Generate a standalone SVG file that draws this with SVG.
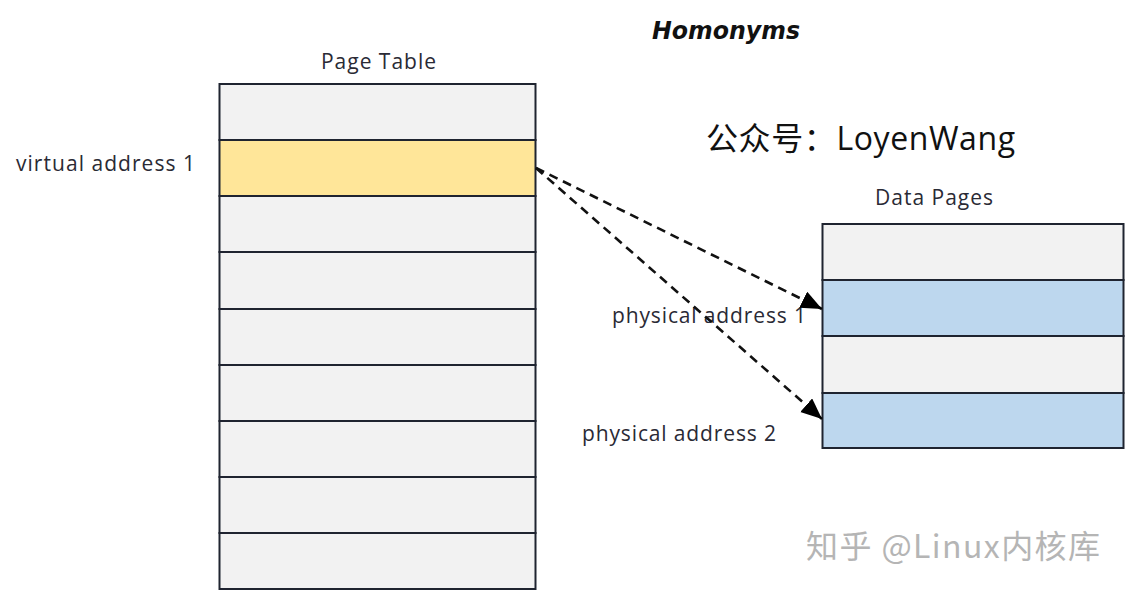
<svg xmlns="http://www.w3.org/2000/svg" width="1128" height="592" viewBox="0 0 1128 592">
<style>
.t{font-family:"Open Sans","Noto Sans",sans-serif;font-size:21px;fill:#2a2a35}
.c{fill:#f2f2f2;stroke:#1f2430;stroke-width:2}
.y{fill:#ffe699}
.b{fill:#bdd7ee}
.l{fill:none;stroke:#111;stroke-width:2.6;stroke-dasharray:9 6}
</style>
<defs><marker id="a" markerUnits="userSpaceOnUse" markerWidth="24" markerHeight="20" refX="21" refY="9" orient="auto"><path d="M0 0L21 9L0 18Z" fill="#000"/></marker></defs>
<rect width="1128" height="592" fill="#fff"/>
<text x="652" y="39" font-family="'DejaVu Sans',sans-serif" font-size="24.500" font-weight="700" font-style="italic" fill="#111" textLength="148" lengthAdjust="spacingAndGlyphs">Homonyms</text>
<text x="706" y="150" font-family="'Open Sans','Noto Sans CJK SC',sans-serif" font-size="32" fill="#111" textLength="309">公众号：LoyenWang</text>
<g id="page-table">
<text class="t" x="321" y="69" textLength="115">Page Table</text>
<rect class="c" x="219.500" y="84" width="316" height="56"/>
<rect class="c y" x="219.500" y="140" width="316" height="56"/>
<rect class="c" x="219.500" y="196" width="316" height="56"/>
<rect class="c" x="219.500" y="252" width="316" height="57"/>
<rect class="c" x="219.500" y="309" width="316" height="56"/>
<rect class="c" x="219.500" y="365" width="316" height="56"/>
<rect class="c" x="219.500" y="421" width="316" height="56"/>
<rect class="c" x="219.500" y="477" width="316" height="56"/>
<rect class="c" x="219.500" y="533" width="316" height="56"/>
<text class="t" x="16" y="171" textLength="179">virtual address 1</text>
</g>
<g id="data-pages">
<text class="t" x="875" y="205" textLength="118">Data Pages</text>
<rect class="c" x="822.500" y="224" width="301" height="56"/>
<rect class="c b" x="822.500" y="280" width="301" height="56"/>
<rect class="c" x="822.500" y="336" width="301" height="57"/>
<rect class="c b" x="822.500" y="393" width="301" height="55"/>
<text class="t" x="612" y="323" textLength="194">physical address 1</text>
<text class="t" x="582" y="441" textLength="194">physical address 2</text>
</g>
<g id="connectors">
<path class="l" d="M536 168L822 309" marker-end="url(#a)"/>
<path class="l" d="M536 168L822 419" marker-end="url(#a)"/>
</g>
<text x="806" y="558" font-family="'Noto Sans CJK SC',sans-serif" font-size="32" fill="#b5b5b5" textLength="294">知乎 @Linux内核库</text>
</svg>
